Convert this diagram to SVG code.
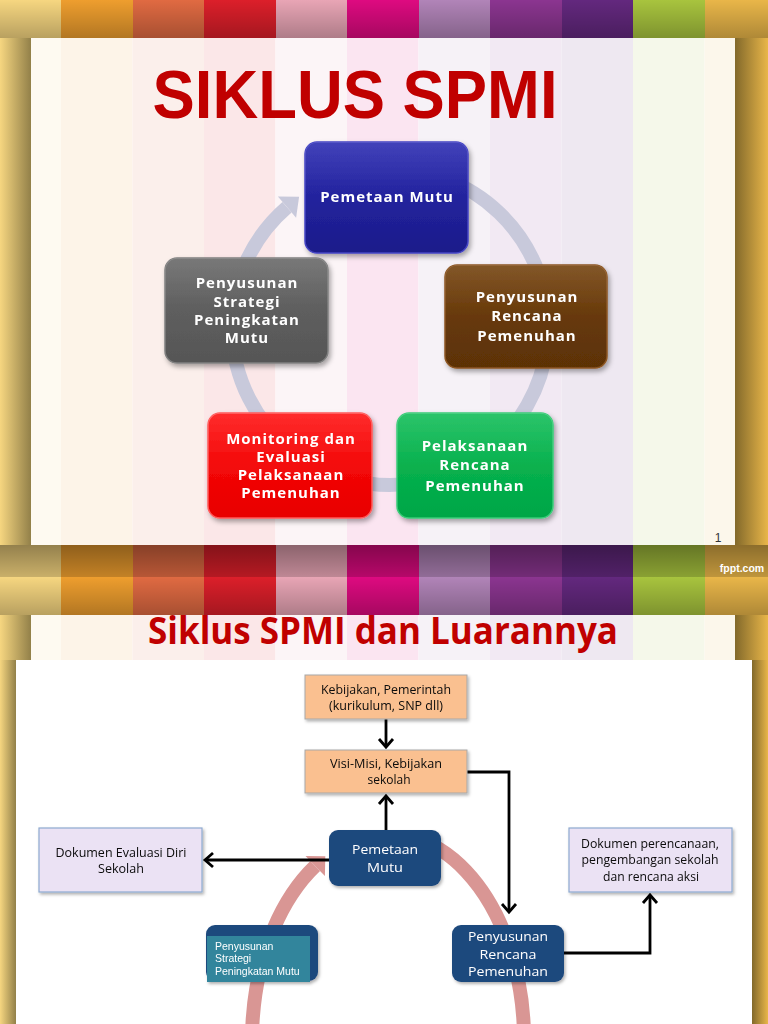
<svg xmlns="http://www.w3.org/2000/svg" width="768" height="1024" viewBox="0 0 768 1024">
<defs>
<style>
.stripe{shape-rendering:crispEdges}
.t1{font-family:"Open Sans","DejaVu Sans",sans-serif;font-weight:bold;font-size:15px;letter-spacing:1px;fill:#fff;text-anchor:middle}
.t2{font-family:"Open Sans","DejaVu Sans",sans-serif;font-size:13.5px;fill:#0a0a0a;text-anchor:middle}
.t3{font-family:"Open Sans","DejaVu Sans",sans-serif;font-size:13.5px;fill:#fff;text-anchor:middle}
.t4{font-family:"Liberation Sans",Arial,sans-serif;font-size:10.5px;fill:#fff}
.conn{fill:none;stroke:#000;stroke-width:2.8;marker-end:url(#chev)}
.orange{fill:#FAC090;stroke:#A8A8A8;stroke-width:1}
.lav{fill:#EBE2F4;stroke:#8EAAD0;stroke-width:1.2}
.navy{fill:#1F497D}
</style>
<marker id="chev" viewBox="-12 -10 16 20" markerWidth="16" markerHeight="20" refX="0" refY="0" orient="auto" markerUnits="userSpaceOnUse" overflow="visible">
<path d="M-8,-7 L0,0 L-8,7" fill="none" stroke="#000" stroke-width="2.8"/>
</marker>
<filter id="bshadow" x="-10%" y="-10%" width="125%" height="130%">
<feDropShadow dx="2" dy="3" stdDeviation="2.5" flood-color="#000" flood-opacity="0.35"/>
</filter>
<filter id="sshadow" x="-10%" y="-10%" width="125%" height="130%">
<feDropShadow dx="1.5" dy="2" stdDeviation="1.5" flood-color="#000" flood-opacity="0.3"/>
</filter>
<linearGradient id="shTop" x1="0" y1="0" x2="0" y2="1"><stop offset="0" stop-color="#000" stop-opacity="0"/><stop offset="1" stop-color="#000" stop-opacity="0.25"/></linearGradient>
<linearGradient id="shMid" x1="0" y1="0" x2="0" y2="1"><stop offset="0" stop-color="#000" stop-opacity="0.4"/><stop offset="1" stop-color="#000" stop-opacity="0.18"/></linearGradient>
<linearGradient id="shL" x1="0" y1="0" x2="1" y2="0"><stop offset="0" stop-color="#2e2a12" stop-opacity="0"/><stop offset="1" stop-color="#2e2a12" stop-opacity="0.5"/></linearGradient>
<linearGradient id="shR" x1="0" y1="0" x2="1" y2="0"><stop offset="0" stop-color="#2e2a12" stop-opacity="0.55"/><stop offset="1" stop-color="#2e2a12" stop-opacity="0"/></linearGradient>
<linearGradient id="gBlue" x1="0" y1="0" x2="0" y2="1"><stop offset="0" stop-color="#2828B0"/><stop offset="1" stop-color="#1C1C8A"/></linearGradient>
<linearGradient id="gBrown" x1="0" y1="0" x2="0" y2="1"><stop offset="0" stop-color="#72400C"/><stop offset="1" stop-color="#5C3206"/></linearGradient>
<linearGradient id="gGreen" x1="0" y1="0" x2="0" y2="1"><stop offset="0" stop-color="#10BC56"/><stop offset="1" stop-color="#00A646"/></linearGradient>
<linearGradient id="gRed" x1="0" y1="0" x2="0" y2="1"><stop offset="0" stop-color="#FF1010"/><stop offset="1" stop-color="#E80000"/></linearGradient>
<linearGradient id="gGray" x1="0" y1="0" x2="0" y2="1"><stop offset="0" stop-color="#666666"/><stop offset="1" stop-color="#565656"/></linearGradient>
<linearGradient id="gloss" x1="0" y1="0" x2="0" y2="1"><stop offset="0" stop-color="#fff" stop-opacity="0.12"/><stop offset="0.5" stop-color="#fff" stop-opacity="0"/></linearGradient>
<g id="tints">
<rect x="0" y="0" width="61" height="1024" fill="#F6D680"/>
<rect x="61" y="0" width="71.5" height="1024" fill="#EE9E2E"/>
<rect x="132.5" y="0" width="71.5" height="1024" fill="#E06A42"/>
<rect x="204" y="0" width="71.5" height="1024" fill="#DC1F2A"/>
<rect x="275.5" y="0" width="71.5" height="1024" fill="#E8A5B5"/>
<rect x="347" y="0" width="71.5" height="1024" fill="#DE0A80"/>
<rect x="418.5" y="0" width="71.5" height="1024" fill="#B184B8"/>
<rect x="490" y="0" width="71.5" height="1024" fill="#8B3590"/>
<rect x="561.5" y="0" width="71.5" height="1024" fill="#63287E"/>
<rect x="633" y="0" width="71.5" height="1024" fill="#A8C43E"/>
<rect x="704.5" y="0" width="63.5" height="1024" fill="#E9B649"/>
</g>
</defs>

<!-- background stripes -->
<g id="background">
<use href="#tints" class="stripe"/>
<rect x="0" y="0" width="768" height="38" fill="url(#shTop)"/>
<rect x="0" y="545" width="768" height="32" fill="url(#shMid)"/>
<rect x="0" y="577" width="768" height="38" fill="url(#shTop)"/>
<rect x="0" y="38" width="31" height="507" fill="url(#shL)"/>
<rect x="735" y="38" width="33" height="507" fill="url(#shR)"/>
<rect x="0" y="615" width="31" height="45" fill="url(#shL)"/>
<rect x="0" y="660" width="16" height="364" fill="url(#shL)"/>
<rect x="735" y="615" width="33" height="45" fill="url(#shR)"/>
<rect x="752" y="660" width="16" height="364" fill="url(#shR)"/>
</g>

<!-- slide panels -->
<g id="panels">
<rect x="31" y="38" width="704" height="507" fill="#fff"/>
<rect x="31" y="615" width="704" height="420" fill="#fff"/>
<svg x="31" y="38" width="704" height="507" viewBox="31 38 704 507" opacity="0.1"><use href="#tints"/></svg>
<svg x="31" y="615" width="704" height="45" viewBox="31 615 704 45" opacity="0.1"><use href="#tints"/></svg>
<rect x="16" y="660" width="736" height="380" fill="#fff"/>
</g>

<!-- titles and page marks -->
<g id="titles">
<text x="355" y="118" font-family="'Liberation Sans',Arial,sans-serif" font-weight="bold" font-size="68" fill="#C00000" text-anchor="middle" textLength="405" lengthAdjust="spacingAndGlyphs">SIKLUS SPMI</text>
<text x="383" y="644" font-family="'Open Sans','DejaVu Sans',sans-serif" font-weight="bold" font-size="38" fill="#C00000" text-anchor="middle" textLength="470" lengthAdjust="spacingAndGlyphs">Siklus SPMI dan Luarannya</text>
<text x="718" y="542" font-family="'Liberation Sans',Arial,sans-serif" font-size="12" fill="#333" text-anchor="middle">1</text>
<text x="742" y="572" font-family="'Liberation Sans',Arial,sans-serif" font-size="10.5" font-weight="bold" fill="#fff" text-anchor="middle">fppt.com</text>
</g>

<!-- cycle arrows -->
<g id="cycle-rings">
<path d="M444,178.5 A158,158 0 1 1 287,207.2" fill="none" stroke="#C8C9DB" stroke-width="14"/>
<polygon points="296.1,217.8 277.9,196.6 299.1,196.8" fill="#C8C9DB"/>
<path d="M411.6,837.1 A136,206 0 1 1 315.2,866" fill="none" stroke="#D99694" stroke-width="14"/>
<polygon points="324.9,876.1 305.5,855.9 325.3,856.3" fill="#D99694"/>
</g>

<!-- slide 1 nodes -->
<g id="s1-pemetaan" filter="url(#bshadow)">
<rect x="305" y="142" width="163" height="111" rx="12" fill="url(#gBlue)" stroke="#4444C4" stroke-width="1.5"/>
<rect x="305" y="142" width="163" height="111" rx="12" fill="url(#gloss)"/>
<text class="t1" x="387" y="202">Pemetaan Mutu</text>
</g>
<g id="s1-rencana" filter="url(#bshadow)">
<rect x="445" y="265" width="162" height="103" rx="12" fill="url(#gBrown)" stroke="#8C5622" stroke-width="1.5"/>
<rect x="445" y="265" width="162" height="103" rx="12" fill="url(#gloss)"/>
<text class="t1" x="527" y="302">Penyusunan</text>
<text class="t1" x="527" y="321">Rencana</text>
<text class="t1" x="527" y="341">Pemenuhan</text>
</g>
<g id="s1-pelaksanaan" filter="url(#bshadow)">
<rect x="397" y="413" width="156" height="105" rx="12" fill="url(#gGreen)" stroke="#3ACC78" stroke-width="1.5"/>
<rect x="397" y="413" width="156" height="105" rx="12" fill="url(#gloss)"/>
<text class="t1" x="475" y="451">Pelaksanaan</text>
<text class="t1" x="475" y="470">Rencana</text>
<text class="t1" x="475" y="491">Pemenuhan</text>
</g>
<g id="s1-monev" filter="url(#bshadow)">
<rect x="208" y="413" width="164" height="105" rx="12" fill="url(#gRed)" stroke="#FF5A5A" stroke-width="1.5"/>
<rect x="208" y="413" width="164" height="105" rx="12" fill="url(#gloss)"/>
<text class="t1" x="291" y="444">Monitoring dan</text>
<text class="t1" x="291" y="462">Evaluasi</text>
<text class="t1" x="291" y="480">Pelaksanaan</text>
<text class="t1" x="291" y="498">Pemenuhan</text>
</g>
<g id="s1-strategi" filter="url(#bshadow)">
<rect x="165" y="258" width="163" height="105" rx="12" fill="url(#gGray)" stroke="#808080" stroke-width="1.5"/>
<rect x="165" y="258" width="163" height="105" rx="12" fill="url(#gloss)"/>
<text class="t1" x="247" y="288">Penyusunan</text>
<text class="t1" x="247" y="307">Strategi</text>
<text class="t1" x="247" y="325">Peningkatan</text>
<text class="t1" x="247" y="343">Mutu</text>
</g>

<!-- slide 2 connectors -->
<g id="connectors">
<line class="conn" x1="386" y1="719" x2="386" y2="747"/>
<line class="conn" x1="386" y1="830" x2="386" y2="796"/>
<line class="conn" x1="329" y1="860" x2="205" y2="860"/>
<polyline class="conn" points="467,772 509,772 509,912"/>
<polyline class="conn" points="564,953 650,953 650,895"/>
</g>

<!-- slide 2 nodes -->
<g id="s2-kebijakan" filter="url(#sshadow)">
<rect class="orange" x="305" y="675" width="162" height="44"/>
<text class="t2" x="386" y="694" textLength="130" lengthAdjust="spacingAndGlyphs">Kebijakan, Pemerintah</text>
<text class="t2" x="386" y="710" textLength="114" lengthAdjust="spacingAndGlyphs">(kurikulum, SNP dll)</text>
</g>
<g id="s2-visimisi" filter="url(#sshadow)">
<rect class="orange" x="305" y="750" width="162" height="43"/>
<text class="t2" x="386" y="768" textLength="112" lengthAdjust="spacingAndGlyphs">Visi-Misi, Kebijakan</text>
<text class="t2" x="389" y="784" textLength="43" lengthAdjust="spacingAndGlyphs">sekolah</text>
</g>
<g id="s2-dokumen-evaluasi" filter="url(#sshadow)">
<rect class="lav" x="39" y="828" width="163" height="64"/>
<text class="t2" x="121" y="857" textLength="131" lengthAdjust="spacingAndGlyphs">Dokumen Evaluasi Diri</text>
<text class="t2" x="121" y="873" textLength="46" lengthAdjust="spacingAndGlyphs">Sekolah</text>
</g>
<g id="s2-dokumen-perencanaan" filter="url(#sshadow)">
<rect class="lav" x="569" y="828" width="163" height="64"/>
<text class="t2" x="650" y="848" textLength="138" lengthAdjust="spacingAndGlyphs">Dokumen perencanaan,</text>
<text class="t2" x="650" y="864" textLength="137" lengthAdjust="spacingAndGlyphs">pengembangan sekolah</text>
<text class="t2" x="651" y="881" textLength="96" lengthAdjust="spacingAndGlyphs">dan rencana aksi</text>
</g>
<g id="s2-pemetaan" filter="url(#sshadow)">
<rect class="navy" x="329" y="830" width="112" height="56" rx="9"/>
<text class="t3" x="385" y="854" textLength="66" lengthAdjust="spacingAndGlyphs">Pemetaan</text>
<text class="t3" x="385" y="872" textLength="36" lengthAdjust="spacingAndGlyphs">Mutu</text>
</g>
<g id="s2-rencana" filter="url(#sshadow)">
<rect class="navy" x="452" y="925" width="112" height="57" rx="9"/>
<text class="t3" x="508" y="941" textLength="80" lengthAdjust="spacingAndGlyphs">Penyusunan</text>
<text class="t3" x="508" y="959" textLength="57" lengthAdjust="spacingAndGlyphs">Rencana</text>
<text class="t3" x="508" y="976" textLength="80" lengthAdjust="spacingAndGlyphs">Pemenuhan</text>
</g>
<g id="s2-strategi" filter="url(#sshadow)">
<rect class="navy" x="206" y="925" width="112" height="56" rx="9"/>
<rect x="207" y="936" width="103" height="46" fill="#31859C"/>
<text class="t4" x="215" y="950">Penyusunan</text>
<text class="t4" x="215" y="962">Strategi</text>
<text class="t4" x="215" y="975">Peningkatan Mutu</text>
</g>
</svg>
